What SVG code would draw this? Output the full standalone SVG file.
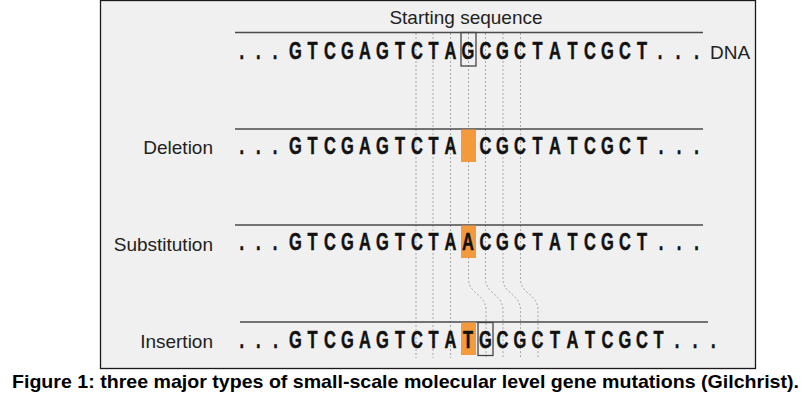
<svg xmlns="http://www.w3.org/2000/svg" width="811" height="398" viewBox="0 0 811 398">
<style>
.frame{fill:#f0f0f0;stroke:#1a1a1a;stroke-width:1.3}
.rule{stroke:#4a4a4a;stroke-width:1.5;fill:none}
.guide{stroke:#a8a8a8;stroke-width:1;stroke-dasharray:2 2;fill:none}
.seq{font-family:"Liberation Sans",Arial,sans-serif;font-weight:bold;font-size:23.5px;fill:#111;stroke:#111;stroke-width:0.5;text-anchor:middle}
.lbl{font-family:"Liberation Sans",Arial,sans-serif;font-size:19px;fill:#222}
.mut{fill:#f29a3c}
.box{fill:none;stroke:#444;stroke-width:1.3}
.cap{font-family:"Liberation Sans",Arial,sans-serif;font-size:18.5px;font-weight:bold;fill:#000}
</style>
<rect class="frame" x="100.5" y="0.5" width="655" height="368"/>
<g id="connectors">
<path class="guide" d="M416 33V358"/>
<path class="guide" d="M433 33V358"/>
<path class="guide" d="M450.5 33V358"/>
<path class="guide" d="M468.5 33V279C468.5 294 486 294 486 310V358"/>
<path class="guide" d="M485.5 33V279C485.5 294 503 294 503 310V358"/>
<path class="guide" d="M503 33V279C503 294 520.5 294 520.5 310V358"/>
<path class="guide" d="M520.5 33V279C520.5 294 538 294 538 310V358"/>
</g>
<g id="starting">
<text class="lbl" x="466" y="23.5" text-anchor="middle" font-size="19.5">Starting sequence</text>
<line class="rule" x1="235" y1="32.5" x2="703" y2="32.5"/>
<text class="seq" transform="scale(0.7 1)" x="345.29 369 392.86 422.14 446.43 471.43 496.43 521.43 546.43 571.43 595.71 619.29 643.57 668.57 693.57 717.86 742.86 767.86 792.86 817.86 842.86 867.86 892.86 917.14 942.86 968.57 995" y="58.7">...GTCGAGTCTAGCGCTATCGCT...</text>
<rect class="box" x="461" y="32.5" width="15" height="33.5"/>
<text class="lbl" x="710" y="59" font-size="16.5">DNA</text>
</g>
<g id="deletion">
<text class="lbl" x="213" y="154" text-anchor="end">Deletion</text>
<line class="rule" x1="235" y1="129" x2="703" y2="129"/>
<text class="seq" transform="scale(0.7 1)" x="345.29 369 392.86 422.14 446.43 471.43 496.43 521.43 546.43 571.43 595.71 619.29 643.57 693.57 717.86 742.86 767.86 792.86 817.86 842.86 867.86 892.86 917.14 944.29 970 995" y="154">...GTCGAGTCTACGCTATCGCT...</text>
<rect class="mut" x="461" y="129.5" width="15" height="32.5"/>
</g>
<g id="substitution">
<text class="lbl" x="213" y="250.5" text-anchor="end">Substitution</text>
<line class="rule" x1="235" y1="225" x2="703" y2="225"/>
<rect class="mut" x="461" y="225.5" width="15" height="32.5"/>
<text class="seq" transform="scale(0.7 1)" x="345.29 369 392.86 422.14 446.43 471.43 496.43 521.43 546.43 571.43 595.71 619.29 643.57 668.57 693.57 717.86 742.86 767.86 792.86 817.86 842.86 867.86 892.86 917.14 944.29 970 995" y="250.5">...GTCGAGTCTAACGCTATCGCT...</text>
</g>
<g id="insertion">
<text class="lbl" x="213" y="347.5" text-anchor="end">Insertion</text>
<line class="rule" x1="240" y1="322" x2="708" y2="322"/>
<rect class="mut" x="461" y="322.5" width="15" height="32.5"/>
<rect class="box" x="478" y="322.5" width="15" height="33"/>
<text class="seq" transform="scale(0.7 1)" x="345.29 369 393.57 422.14 446.43 471.43 496.43 521.43 546.43 571.43 595.71 619.29 643.57 668.57 693.57 717.86 742.86 767.86 792.86 817.86 842.86 867.86 892.86 917.14 940.71 967.14 992.86 1019" y="347.7">...GTCGAGTCTATGCGCTATCGCT...</text>
</g>
<text class="cap" x="12" y="388" textLength="787" lengthAdjust="spacingAndGlyphs">Figure 1: three major types of small-scale molecular level gene mutations (Gilchrist).</text>
</svg>
